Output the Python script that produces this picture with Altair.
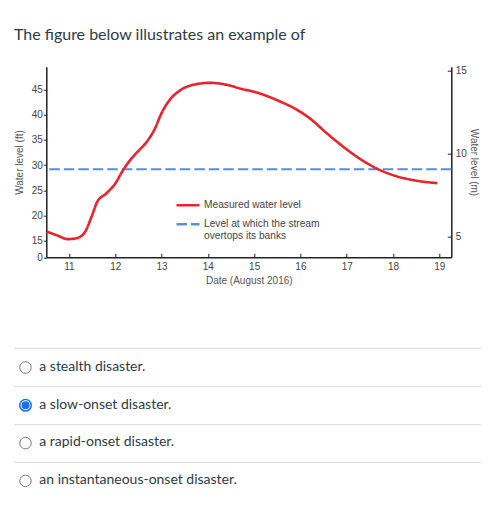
import altair as alt
import pandas as pd

# ---------------- data ----------------
days = [10.52, 10.73, 10.98, 11.17, 11.35, 11.49, 11.61, 11.81, 11.99, 12.17,
        12.35, 12.50, 12.68, 12.86, 13.00, 13.15, 13.40, 13.68, 14.05, 14.41,
        14.69, 15.12, 15.56, 15.92, 16.21, 16.57, 17.00, 17.43, 17.72, 18.00,
        18.44, 18.96]
level_ft = [16.8, 16.1, 15.3, 15.5, 16.8, 19.8, 22.7, 24.4, 26.2, 29.0,
            31.3, 32.8, 34.6, 37.3, 40.3, 42.6, 44.8, 45.9, 46.3, 45.9,
            45.2, 44.2, 42.6, 41.0, 39.2, 36.3, 33.1, 30.4, 29.0, 28.0,
            27.0, 26.4]
bank_level_ft = 29.15
series_names = ["Measured water level", "Level at which the stream overtops its banks"]
x_ticks = [11, 12, 13, 14, 15, 16, 17, 18, 19]
ft_ticks = [11.7, 15, 20, 25, 30, 35, 40, 45]
m_ticks = [5, 10, 15]
FT_PER_M = 3.281

question = "The figure below illustrates an example of"
options = ["a stealth disaster.", "a slow-onset disaster.",
           "a rapid-onset disaster.", "an instantaneous-onset disaster."]
selected_index = 1

# ---------------- layout (pixels) ----------------
W, H = 405, 190.6
X_DOM = [10.51, 19.26]
FT_DOM = [11.7, 49.5]
M_DOM = [3.76, 15.24]

RED = "#e8232c"
BLUE = "#5b8fd0"
AXIS = "#222222"
LAB = "#444444"
TXT = "#2d3b45"
CHART_FONT = "Liberation Sans"

meas = pd.DataFrame({"day": days, "ft": level_ft, "series": series_names[0]})
meas["m"] = meas["ft"] / FT_PER_M
bank = pd.DataFrame({"ft": [bank_level_ft], "series": [series_names[1]]})

x_main = alt.X("day:Q", scale=alt.Scale(domain=X_DOM, nice=False, zero=False),
               axis=alt.Axis(values=x_ticks, orient="bottom", ticks=False, labelPadding=4,
                             domain=True, domainColor=AXIS, domainWidth=1.5,
                             title="Date (August 2016)", titlePadding=4))
color = alt.Color("series:N", scale=alt.Scale(domain=series_names, range=[RED, BLUE]),
                  legend=alt.Legend(orient="none", legendX=128.7, legendY=125.5,
                                    title=None, symbolType="stroke", symbolSize=529,
                                    symbolStrokeWidth=2.5, labelFontSize=10.2,
                                    labelFont=CHART_FONT, labelColor=LAB,
                                    labelOffset=3, rowPadding=0, padding=0,
                                    labelExpr="datum.label == '" + series_names[1] + "' ? ['Level at which the stream', 'overtops its banks'] : datum.label"))
dash = alt.StrokeDash("series:N", scale=alt.Scale(domain=series_names, range=[[1, 0], [10.5, 4]]),
                      legend=None)

bank_rule = alt.Chart(bank).mark_rule(strokeWidth=2).encode(
    y=alt.Y("ft:Q", scale=alt.Scale(domain=FT_DOM, nice=False, zero=False), axis=None),
    color=color, strokeDash=dash)

red_line = alt.Chart(meas).mark_line(interpolate="monotone", strokeWidth=2.6).encode(
    x=x_main,
    y=alt.Y("ft:Q", scale=alt.Scale(domain=FT_DOM, nice=False, zero=False),
            axis=alt.Axis(values=ft_ticks, orient="left", tickSize=3, labelPadding=1,
                          domain=True, domainColor=AXIS, domainWidth=1.5,
                          labelExpr="datum.value < 12 ? '0' : datum.label",
                          title="Water level (ft)", titleX=-21.5, titleBaseline="bottom")),
    color=color, strokeDash=dash)

right_main = alt.Chart(meas).mark_line(opacity=0).encode(
    x=alt.X("day:Q", scale=alt.Scale(domain=X_DOM, nice=False, zero=False),
            axis=alt.Axis(values=x_ticks, orient="bottom", labels=False, domain=False,
                          ticks=True, tickSize=4, offset=-4, title=None)),
    y=alt.Y("m:Q", scale=alt.Scale(domain=M_DOM, nice=False, zero=False),
            axis=alt.Axis(values=m_ticks, orient="right", ticks=False, labelPadding=4,
                          title="Water level (m)", titlePadding=2)))

right_ticks = alt.Chart(meas).mark_line(opacity=0).encode(
    y=alt.Y("m:Q", scale=alt.Scale(domain=M_DOM, nice=False, zero=False),
            axis=alt.Axis(values=m_ticks, orient="right", labels=False, domain=False,
                          ticks=True, tickSize=4, offset=-4, title=None)))

# ---------------- quiz decoration ----------------
OX, OY = 46.3, 66.7   # plot origin on page
one = pd.DataFrame({"k": [0]})

deco = [alt.Chart(pd.DataFrame({"t": [question]})).mark_text(
    align="left", baseline="alphabetic", font="Lato", fontSize=16, color=TXT).encode(
    x=alt.value(14 - OX), y=alt.value(40.5 - OY), text="t:N")]

sep_y = [348.3, 386.6, 424.7, 462.3]
for sy in sep_y:
    deco.append(alt.Chart(one).mark_rule(color="#d9d9d9", strokeWidth=1).encode(
        x=alt.value(14 - OX), x2=alt.value(481 - OX), y=alt.value(sy - OY)))

for i, opt in enumerate(options):
    cy = 367.5 + i * 37.8 - OY
    ty = 370.8 + i * 37.8 - OY
    if i == selected_index:
        deco.append(alt.Chart(one).mark_point(shape="circle", filled=True, size=169,
                                              color="#1a6ff0", opacity=1).encode(
            x=alt.value(25.5 - OX), y=alt.value(cy)))
        deco.append(alt.Chart(one).mark_point(shape="circle", filled=True, size=100,
                                              color="#ffffff", opacity=1).encode(
            x=alt.value(25.5 - OX), y=alt.value(cy)))
        deco.append(alt.Chart(one).mark_point(shape="circle", filled=True, size=64,
                                              color="#1a6ff0", opacity=1).encode(
            x=alt.value(25.5 - OX), y=alt.value(cy)))
    else:
        deco.append(alt.Chart(one).mark_point(shape="circle", size=132, fill="#ffffff",
                                              stroke="#777777", strokeWidth=1,
                                              opacity=1, fillOpacity=1).encode(
            x=alt.value(25.5 - OX), y=alt.value(cy)))
    deco.append(alt.Chart(pd.DataFrame({"t": [opt]})).mark_text(
        align="left", baseline="alphabetic", font="Lato", fontSize=14, color=TXT).encode(
        x=alt.value(39.3 - OX), y=alt.value(ty), text="t:N"))

chart = alt.layer(bank_rule, red_line, right_main, right_ticks, *deco).resolve_scale(
    y="independent").resolve_axis(x="independent", y="independent").properties(
    width=W, height=H,
    autosize=alt.AutoSizeParams(type="none"),
    padding={"left": 38.3, "top": 58.7, "right": 32, "bottom": 240},
    background="white",
).configure_view(stroke=None).configure_axis(
    grid=False, domainColor=AXIS, domainWidth=1.5, tickColor=AXIS, tickWidth=1,
    labelColor=LAB, labelFont=CHART_FONT, labelFontSize=10,
    titleColor="#555555", titleFont=CHART_FONT, titleFontSize=10, titleFontWeight="normal")

chart.save("out.html", embed_options={"renderer": "svg", "actions": False})
